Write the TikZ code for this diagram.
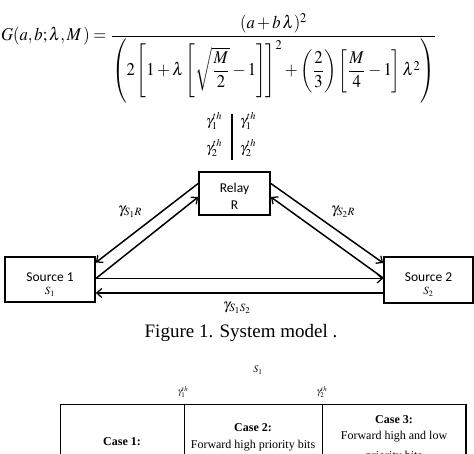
\documentclass[tikz,border=0pt]{standalone}
\usepackage{amsmath}
\usepackage{mathptmx}
\usepackage{fontspec}
\setmainfont{Liberation Serif}
\newfontfamily\califont{Carlito}
\usetikzlibrary{arrows.meta}
\begin{document}
\begin{tikzpicture}[x=1pt,y=-1pt,
  box/.style={draw,line width=1.7pt,inner sep=0pt},
  arr/.style={line width=1.5pt,-{Straight Barb[length=5pt,width=9pt,line width=1.3pt]}},
  boxtext/.style={font=\califont\fontsize{13.5}{17}\selectfont,inner sep=0pt},
  lbl/.style={font=\fontsize{15}{15}\selectfont,inner sep=0pt},
  thr/.style={font=\fontsize{14}{14}\selectfont,inner sep=0pt},
  small/.style={font=\fontsize{9}{9}\selectfont,inner sep=0pt},
  cell/.style={font=\fontsize{12}{12}\selectfont,inner sep=0pt},
  cellb/.style={font=\bfseries\fontsize{12}{12}\selectfont,inner sep=0pt},
  tline/.style={line width=1pt},
  ]
\useasboundingbox (0,0) rectangle (474,453);
\begin{scope}
\clip (0,0) rectangle (474,453);
% equation
\node[anchor=north west,inner sep=0pt] (eq) at (1,13) {\scalebox{1}[1.08]{\resizebox{436pt}{!}{$\displaystyle
G(a,b;\lambda,M\,)=\frac{(a+b\,\lambda)^2}{\left(2\left[1+\lambda\left[\sqrt{\dfrac{M}{2}}-1\right]\right]^2+\left(\dfrac{2}{3}\right)\left[\dfrac{M}{4}-1\right]\lambda^2\right)}$}}};
% thresholds
\node[thr] (t11) at (214,121) {$\gamma_1^{th}$};
\node[thr] (t12) at (248,121) {$\gamma_1^{th}$};
\node[thr] (t21) at (214,148) {$\gamma_2^{th}$};
\node[thr] (t22) at (248,148) {$\gamma_2^{th}$};
\coordinate (sepA) at (232,114);
\coordinate (sepB) at (232,160);
\draw[line width=1.5pt] (sepA) -- (sepB);
% boxes
\node[box,minimum width=71pt,minimum height=43pt] (relay) at (234.5,193.5) {};
\node[boxtext,align=center] (relayt) at (234.5,196) {Relay\\R};
\node[box,minimum width=90pt,minimum height=45pt] (s1) at (50,279.5) {};
\node[boxtext] (s1t) at (50,277) {Source 1};
\node[inner sep=0pt,font=\fontsize{11}{11}\selectfont] (s1s) at (50,292) {$S_1$};
\node[box,minimum width=89pt,minimum height=46pt] (s2) at (428.5,280) {};
\node[boxtext] (s2t) at (428.5,277) {Source 2};
\node[inner sep=0pt,font=\fontsize{11}{11}\selectfont] (s2s) at (428.5,292) {$S_2$};
% arrows
\draw[arr] ([yshift=10pt]relay.west) -- ([yshift=17pt]s1.east);
\draw[arr] ([yshift=1pt]s1.east) -- ([yshift=-3.5pt]relay.west);
\draw[arr] ([yshift=10pt]relay.east) -- ([yshift=17pt]s2.west);
\draw[arr] ([yshift=2pt]s2.west) -- ([yshift=-3.5pt]relay.east);
\draw[arr] ([yshift=1pt]s1.east) -- ([yshift=1.5pt]s2.west);
\draw[arr] ([yshift=-13pt]s2.west) -- ([yshift=-13.5pt]s1.east);
% link labels
\node[lbl] (l1) at (130,212) {$\gamma_{S_1R}$};
\node[lbl] (l2) at (343,212) {$\gamma_{S_2R}$};
\node[lbl] (l3) at (237,308) {$\gamma_{S_1S_2}$};
% caption
\node[inner sep=0pt,font=\fontsize{19}{19}\selectfont] (cap) at (241,333) {Figure 1. System model .};
% second figure
\node[inner sep=0pt,font=\fontsize{10}{10}\selectfont] (bs1) at (258,370) {$S_1$};
\node[small] (bg1) at (183,392) {$\gamma_1^{th}$};
\node[small] (bg2) at (322,392) {$\gamma_2^{th}$};
\draw[tline] (60,404) -- (466,404);
\draw[tline] (60,404) -- (60,460);
\draw[tline] (184,404) -- (184,460);
\draw[tline] (322,404) -- (322,460);
\draw[line width=1.6pt] (466,404) -- (466,460);
\node[cellb] (c1) at (122,442) {Case 1:};
\node[cellb] (c2) at (253,428) {Case 2:};
\node[cell] (c2b) at (253,446) {Forward high priority bits};
\node[cellb] (c3) at (394,420) {Case 3:};
\node[cell] (c3b) at (394,437) {Forward high and low};
\node[cell] (c3c) at (394,457) {priority bits};
\end{scope}
\end{tikzpicture}
\end{document}
